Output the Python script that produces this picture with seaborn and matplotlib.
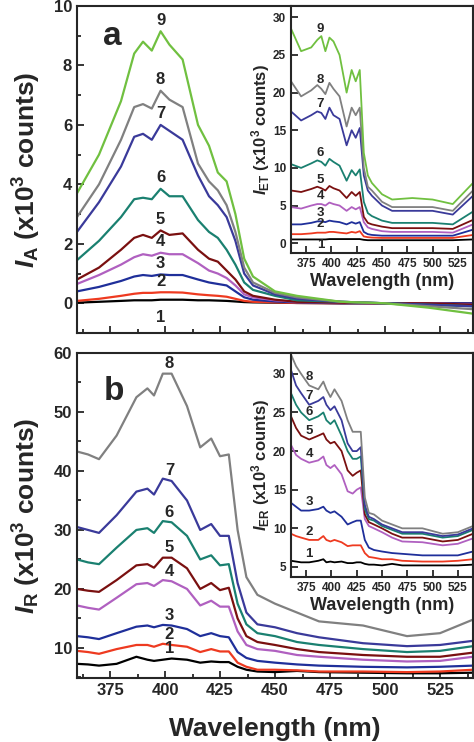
import numpy as np
import pandas as pd
import matplotlib
matplotlib.use("Agg")
import matplotlib.pyplot as plt
import seaborn as sns
from matplotlib.ticker import MultipleLocator

sns.set_style("ticks")
plt.rcParams['font.family'] = ['Liberation Sans', 'DejaVu Sans']
plt.rcParams['mathtext.fontset'] = 'custom'
plt.rcParams['mathtext.bf'] = 'Liberation Sans:bold'
plt.rcParams['mathtext.bfit'] = 'Liberation Sans:italic:bold'
plt.rcParams['mathtext.it'] = 'Liberation Sans:italic:bold'
plt.rcParams['mathtext.rm'] = 'Liberation Sans:bold'

colors = ["#000000", "#ee3a20", "#1f2f9a", "#b060c0", "#7a1010",
          "#1a8070", "#3a3a9a", "#808080", "#70c040"]

# panel a: wavelength grid
wl_a = [360, 370, 380, 386, 390, 394, 398, 402, 408, 415, 420, 424, 428, 432,
        436, 440, 450, 460, 480, 500, 520, 540]

a_main = [
    [0.02, 0.05, 0.08, 0.1, 0.1, 0.1, 0.12, 0.12, 0.12, 0.1, 0.1, 0.09, 0.08, 0.06, 0.04, 0.03, 0.02, 0.01, 0, 0, 0, 0],
    [0.08, 0.15, 0.25, 0.32, 0.35, 0.35, 0.37, 0.37, 0.36, 0.3, 0.27, 0.25, 0.22, 0.15, 0.08, 0.05, 0.03, 0.01, 0, 0, 0, 0],
    [0.4, 0.55, 0.75, 0.9, 0.95, 0.92, 0.97, 0.95, 0.95, 0.8, 0.7, 0.65, 0.6, 0.4, 0.2, 0.12, 0.06, 0.03, 0.0, 0, 0, 0],
    [0.65, 0.95, 1.3, 1.55, 1.65, 1.6, 1.7, 1.65, 1.65, 1.35, 1.1, 1.0, 0.85, 0.6, 0.3, 0.2, 0.1, 0.05, 0.02, 0, 0, -0.05],
    [0.8, 1.2, 1.8, 2.2, 2.3, 2.2, 2.45, 2.3, 2.35, 1.8, 1.5, 1.4, 1.1, 0.8, 0.4, 0.25, 0.12, 0.05, 0.02, 0, 0, -0.05],
    [1.45, 2.1, 2.9, 3.5, 3.55, 3.5, 3.85, 3.6, 3.6, 2.8, 2.4, 2.2, 1.8, 1.3, 0.7, 0.45, 0.25, 0.1, 0.05, 0, -0.05, -0.1],
    [2.4, 3.4, 4.6, 5.6, 5.7, 5.5, 6.0, 5.8, 5.5, 4.3, 3.6, 3.3, 2.9, 2.1, 1.0, 0.6, 0.3, 0.15, 0.05, 0.0, -0.05, -0.1],
    [2.9, 4.0, 5.5, 6.6, 6.7, 6.55, 7.15, 6.85, 6.6, 4.7, 4.1, 3.8, 3.3, 2.4, 1.2, 0.7, 0.35, 0.2, 0.05, 0.0, -0.1, -0.2],
    [3.7, 5.0, 6.8, 8.4, 8.8, 8.5, 9.15, 8.7, 8.2, 6.0, 5.3, 4.4, 4.1, 3.0, 1.5, 0.9, 0.4, 0.25, 0.05, 0.0, -0.15, -0.35],
]

a_inset = [
    [0.5, 0.5, 0.5, 0.5, 0.5, 0.5, 0.55, 0.55, 0.55, 0.55, 0.55, 0.55, 0.55, 0.45, 0.4, 0.4, 0.4, 0.4, 0.4, 0.4, 0.4, 0.5],
    [1.2, 1.2, 1.3, 1.4, 1.4, 1.4, 1.5, 1.5, 1.4, 1.3, 1.5, 1.4, 1.6, 0.9, 0.8, 0.75, 0.7, 0.7, 0.7, 0.7, 0.7, 1.1],
    [2.5, 2.5, 2.7, 2.9, 2.9, 2.8, 3.0, 2.9, 2.8, 2.5, 2.8, 2.6, 2.8, 1.5, 1.2, 1.1, 1.0, 1.0, 1.0, 1.0, 1.0, 1.8],
    [4.8, 4.6, 5.0, 5.2, 5.2, 5.0, 5.4, 5.2, 5.0, 4.3, 4.8, 4.5, 4.8, 2.8, 2.1, 1.9, 1.6, 1.5, 1.5, 1.5, 1.4, 2.5],
    [7.0, 6.8, 7.2, 7.5, 7.3, 7.0, 7.6, 7.3, 7.0, 6.0, 6.8, 6.3, 6.8, 3.5, 2.7, 2.5, 2.2, 2.0, 2.0, 2.0, 1.9, 3.1],
    [10.5, 10.0, 10.6, 11.0, 10.8, 10.3, 11.2, 10.8, 10.3, 8.3, 9.7, 9.0, 9.8, 5.5, 4.0, 3.6, 3.0, 2.7, 2.7, 2.7, 2.5, 4.2],
    [17.5, 16.3, 17.0, 17.5, 17.3, 16.5, 18.0, 17.0, 16.5, 13.0, 15.0, 14.0, 15.3, 9.0, 7.0, 6.3, 5.0, 4.3, 4.3, 4.3, 3.8, 6.3],
    [21.5, 19.5, 20.3, 21.0, 20.5, 19.8, 21.3, 20.5, 19.5, 15.5, 18.0, 17.0, 18.0, 10.0, 7.5, 7.0, 5.5, 4.8, 4.8, 4.8, 4.3, 7.0],
    [28.5, 25.5, 26.0, 27.0, 27.5, 25.5, 27.3, 26.8, 25.0, 20.0, 23.0, 21.5, 23.0, 12.0, 9.0, 8.0, 6.5, 5.8, 6.0, 5.8, 5.2, 8.0],
]

# panel b: wavelength grid
wl_b = [360, 365, 370, 378, 387, 392, 395, 399, 403, 410, 416, 421, 425, 429,
        433, 437, 442, 450, 460, 470, 490, 510, 525, 540]

b_main = [
    [7.3, 7.2, 7.0, 7.3, 8.5, 8.0, 7.8, 8.0, 8.2, 8.0, 7.5, 7.7, 7.6, 7.6, 6.8, 6.3, 6.0, 5.9, 6.1, 5.9, 5.8, 5.7, 5.7, 5.8],
    [9.5, 9.3, 9.0, 9.8, 10.5, 10.5, 10.2, 10.7, 10.5, 10.2, 9.3, 9.8, 9.4, 9.4, 7.5, 6.8, 6.3, 6.3, 6.2, 6.0, 6.0, 5.9, 6.0, 6.3],
    [12.0, 11.8, 11.5, 12.5, 13.6, 13.8, 13.5, 13.9, 13.8, 13.2, 12.0, 12.5, 12.0, 11.8, 9.3, 8.3, 7.8, 7.5, 7.2, 7.0, 6.8, 6.7, 6.8, 7.0],
    [17.2, 16.8, 16.5, 18.5, 20.8, 21.0, 20.5, 21.5, 21.3, 20.0, 17.2, 18.0, 17.0, 17.0, 12.8, 10.5, 9.8, 9.5, 8.8, 8.5, 8.0, 7.7, 7.8, 8.5],
    [20.0, 19.7, 19.5, 21.5, 24.0, 24.2, 23.6, 25.3, 25.3, 23.5, 20.0, 21.0, 19.8, 20.2, 15.0, 12.0, 11.0, 10.5, 9.8, 9.3, 8.8, 8.5, 8.5, 9.2],
    [25.0, 24.5, 24.2, 27.0, 30.0, 30.3, 29.5, 31.5, 31.3, 29.0, 25.0, 25.7, 24.0, 24.2, 17.5, 14.0, 12.5, 12.0, 11.0, 10.5, 9.8, 9.3, 9.5, 10.3],
    [30.5, 30.0, 29.5, 32.5, 36.5, 37.0, 36.0, 38.7, 38.3, 35.0, 30.0, 31.0, 29.0, 29.0, 21.0, 16.0, 14.0, 13.5, 12.5, 11.8, 10.8, 10.3, 10.5, 11.2],
    [43.3, 42.8, 42.0, 46.0, 52.5, 54.0, 52.8, 56.5, 56.5, 51.0, 44.0, 45.5, 42.5, 42.8, 30.0, 22.0, 19.0, 17.5, 16.0, 14.5, 13.8, 12.0, 12.5, 14.8],
]

b_inset = [
    [5.8, 5.7, 5.6, 5.6, 5.8, 6.0, 5.6, 5.7, 5.6, 5.7, 5.5, 5.5, 5.6, 5.6, 5.4, 5.3, 5.3, 5.2, 5.4, 5.2, 5.2, 5.2, 5.2, 5.3],
    [9.3, 9.0, 8.8, 8.5, 8.5, 9.0, 8.5, 8.3, 8.5, 8.2, 7.7, 7.8, 7.8, 7.8, 6.8, 6.3, 6.2, 6.0, 6.0, 5.8, 5.7, 5.7, 5.8, 6.0],
    [13.3, 12.8, 12.3, 12.3, 12.5, 12.8, 12.3, 12.0, 12.2, 11.5, 10.5, 10.8, 11.0, 11.0, 8.5, 7.5, 7.2, 7.0, 6.8, 6.7, 6.5, 6.5, 6.5, 7.0],
    [20.8, 19.5, 19.0, 18.5, 18.8, 19.3, 18.2, 17.8, 18.2, 17.0, 14.8, 14.5, 15.0, 15.3, 11.2, 10.3, 10.0, 9.5, 8.8, 8.3, 8.2, 7.8, 8.0, 8.7],
    [24.5, 23.0, 22.0, 21.5, 22.0, 22.3, 21.5, 21.0, 21.2, 20.0, 17.5, 16.8, 17.2, 17.5, 11.8, 10.8, 10.5, 10.0, 9.3, 8.8, 8.8, 8.3, 8.5, 9.3],
    [27.5, 26.0, 25.0, 24.0, 24.5, 25.0, 24.0, 23.5, 24.0, 22.0, 20.0, 19.0, 19.0, 19.3, 12.5, 11.2, 11.0, 10.3, 9.8, 9.3, 9.3, 8.8, 9.0, 9.8],
    [30.5, 28.5, 27.5, 26.0, 26.5, 27.0, 26.0, 25.3, 25.8, 24.0, 21.0, 20.0, 20.0, 20.5, 13.0, 11.5, 11.2, 10.5, 10.0, 9.5, 9.5, 9.0, 9.2, 10.0],
    [32.5, 31.0, 30.0, 28.5, 28.0, 29.0, 28.0, 27.0, 28.0, 26.5, 24.0, 22.5, 22.5, 22.5, 14.0, 12.0, 11.8, 11.0, 10.5, 10.0, 10.0, 9.3, 9.5, 10.3],
]


def draw(ax, wl, series, lw=1.6):
    for i, s in enumerate(series):
        df = pd.DataFrame({"wl": wl, "v": s})
        sns.lineplot(data=df, x="wl", y="v", ax=ax, color=colors[i], lw=lw)
    ax.set_xlabel("")
    ax.set_ylabel("")


def style(ax, fs):
    for sp in ax.spines.values():
        sp.set_linewidth(1.5)
    ax.tick_params(which="both", direction="in", width=1.3, labelsize=fs)
    ax.tick_params(which="major", length=5)
    ax.tick_params(which="minor", length=3)
    for t in ax.get_xticklabels() + ax.get_yticklabels():
        t.set_fontweight("bold")


def labels(ax, wl, series, lx, dy, fs, first_below=None):
    for i, s in enumerate(series):
        y = np.interp(lx, wl, s) + dy
        if first_below is not None and i == 0:
            y = np.interp(lx, wl, s) - first_below
        ax.text(lx, y, str(i + 1), fontsize=fs, fontweight="bold", ha="center", va="bottom")


fig = plt.figure(figsize=(4.74, 7.42), dpi=100)
W, H = 474, 742

def rect(l, t, r, b):
    return [l / W, 1 - b / H, (r - l) / W, (b - t) / H]

# panel a
ax1 = fig.add_axes(rect(77, 6, 473, 333))
draw(ax1, wl_a, a_main)
ax1.set_xlim(360, 540)
ax1.set_ylim(-1.0, 10.0)
ax1.yaxis.set_major_locator(MultipleLocator(2))
ax1.yaxis.set_minor_locator(MultipleLocator(1))
ax1.xaxis.set_major_locator(MultipleLocator(25))
ax1.xaxis.set_minor_locator(MultipleLocator(12.5))
ax1.set_xticklabels([])
style(ax1, 12)
labels(ax1, wl_a, a_main, 398, 0.12, 12, first_below=0.85)
ax1.text(372, 8.7, "a", fontsize=24, fontweight="bold")
ax1.set_ylabel(r"$\mathbfit{I}_{\mathbf{A}}$ (x10$^{\mathbf{3}}$ counts)", fontsize=19, fontweight="bold", labelpad=8)

ax2 = fig.add_axes(rect(291, 6, 473, 253))
draw(ax2, wl_a, a_inset, lw=1.3)
ax2.set_xlim(360, 540)
ax2.set_ylim(-1.3, 31.5)
ax2.yaxis.set_major_locator(MultipleLocator(5))
ax2.set_xticks([375, 400, 425, 450, 475, 500, 525])
style(ax2, 8.5)
labels(ax2, wl_a, a_inset, 389, 0.3, 9.5, first_below=1.5)
ax2.set_xlabel("Wavelength (nm)", fontsize=13, fontweight="bold", labelpad=2)
ax2.set_ylabel(r"$\mathbfit{I}_{\mathbf{ET}}$ (x10$^{\mathbf{3}}$ counts)", fontsize=12, fontweight="bold", labelpad=1)

# panel b
ax3 = fig.add_axes(rect(77, 353, 473, 678))
draw(ax3, wl_b, b_main)
ax3.set_xlim(360, 540)
ax3.set_ylim(4.9, 60)
ax3.yaxis.set_major_locator(MultipleLocator(10))
ax3.yaxis.set_minor_locator(MultipleLocator(5))
ax3.set_xticks([375, 400, 425, 450, 475, 500, 525])
ax3.xaxis.set_minor_locator(MultipleLocator(12.5))
style(ax3, 12)
labels(ax3, wl_b, b_main, 402, 0.4, 12)
ax3.text(372, 52, "b", fontsize=24, fontweight="bold")
ax3.set_xlabel("Wavelength (nm)", fontsize=19, fontweight="bold", labelpad=14)
ax3.set_ylabel(r"$\mathbfit{I}_{\mathbf{R}}$ (x10$^{\mathbf{3}}$ counts)", fontsize=19, fontweight="bold", labelpad=8)

ax4 = fig.add_axes(rect(291, 353, 473, 577))
draw(ax4, wl_b, b_inset, lw=1.3)
ax4.set_xlim(360, 540)
ax4.set_ylim(3.7, 32.7)
ax4.yaxis.set_major_locator(MultipleLocator(5))
ax4.set_xticks([375, 400, 425, 450, 475, 500, 525])
style(ax4, 8.5)
labels(ax4, wl_b, b_inset, 378, 0.3, 9.5)
ax4.set_xlabel("Wavelength (nm)", fontsize=13, fontweight="bold", labelpad=2)
ax4.set_ylabel(r"$\mathbfit{I}_{\mathbf{ER}}$ (x10$^{\mathbf{3}}$ counts)", fontsize=12, fontweight="bold", labelpad=1)

fig.savefig("out.png", dpi=100)
